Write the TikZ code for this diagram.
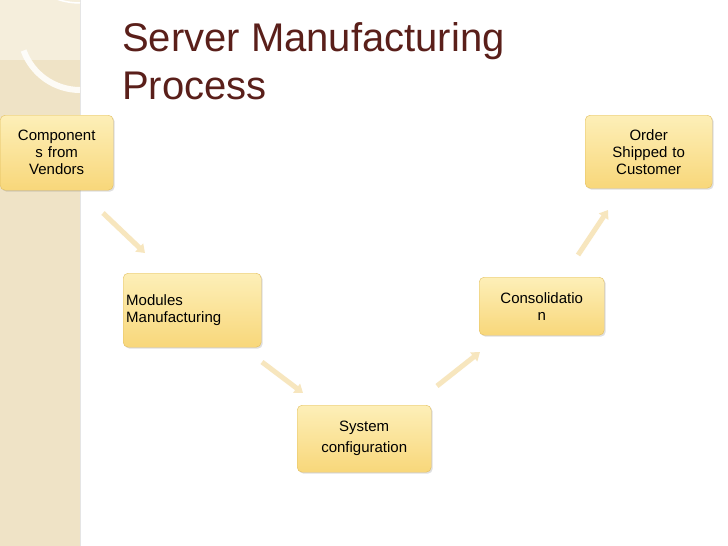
\documentclass[tikz,border=0pt]{standalone}
\usepackage{fontspec}
\setmainfont{Liberation Sans}
\usetikzlibrary{shadows,arrows.meta}
\definecolor{strip}{HTML}{EFE3C6}
\definecolor{titlered}{HTML}{5A1F1A}
\definecolor{boxtop}{HTML}{FDEFB8}
\definecolor{boxbot}{HTML}{F8D77A}
\definecolor{boxline}{HTML}{E2BE5E}
\definecolor{arrowc}{HTML}{F7E6BE}
\tikzset{
  stagebox/.style={draw=boxline, rounded corners=5pt, top color=boxtop, bottom color=boxbot,
    drop shadow={opacity=0.25, shadow xshift=1.5pt, shadow yshift=-1.5pt},
    font=\fontsize{15}{17}\selectfont, inner sep=3pt, anchor=north west},
  flow/.style={line width=5pt, -{Triangle[length=8pt,width=11pt]}, color=arrowc}
}
\begin{document}
\begin{tikzpicture}[x=1pt,y=-1pt]
\useasboundingbox (0,0) rectangle (728,546);
\fill[white] (0,0) rectangle (728,546);
% side strip
\fill[strip] (0,0) rectangle (80,546);
\draw[white!80!gray, line width=1pt] (80,0) -- (80,546);
\draw[white, line width=1.5pt] (80,3) arc[start angle=90, end angle=220, radius=70];
\draw[white!85!strip, line width=6pt] (80,90) arc[start angle=90, end angle=160, radius=60];
\fill[white, opacity=0.4] (0,0) rectangle (80,60);
% title
\node[anchor=north west, text=titlered, font=\fontsize{40}{48}\selectfont, align=left, inner sep=0pt]
  (title) at (122,22) {Server Manufacturing\\Process};
% stages
\node[stagebox, minimum width=113pt, minimum height=75pt, align=center, text width=107pt] (vendors) at (0,115)
  {Component\\s from\\Vendors\\[10pt]};
\node[stagebox, minimum width=138pt, minimum height=74pt, align=left, text width=132pt] (modules) at (123,273)
  {Modules\\Manufacturing\\[30pt]};
\node[stagebox, minimum width=134pt, minimum height=67pt, align=center, text width=128pt] (system) at (297,405)
  {System\\[4pt]configuration\\[8pt]};
\node[stagebox, minimum width=125pt, minimum height=58pt, align=center, text width=119pt] (consol) at (479,277)
  {Consolidatio\\n\\[12pt]};
\node[stagebox, minimum width=127pt, minimum height=73pt, align=center, text width=121pt] (order) at (585,115)
  {Order\\Shipped to\\Customer\\[8pt]};
% connectors
\coordinate (a1) at (103,213); \coordinate (a2) at (145,253);
\coordinate (b1) at (262,362); \coordinate (b2) at (303,393);
\coordinate (c1) at (437,386); \coordinate (c2) at (480,352);
\coordinate (d1) at (578,255); \coordinate (d2) at (608,210);
\draw[flow] (a1) -- (a2);
\draw[flow] (b1) -- (b2);
\draw[flow] (c1) -- (c2);
\draw[flow] (d1) -- (d2);
\end{tikzpicture}
\end{document}
